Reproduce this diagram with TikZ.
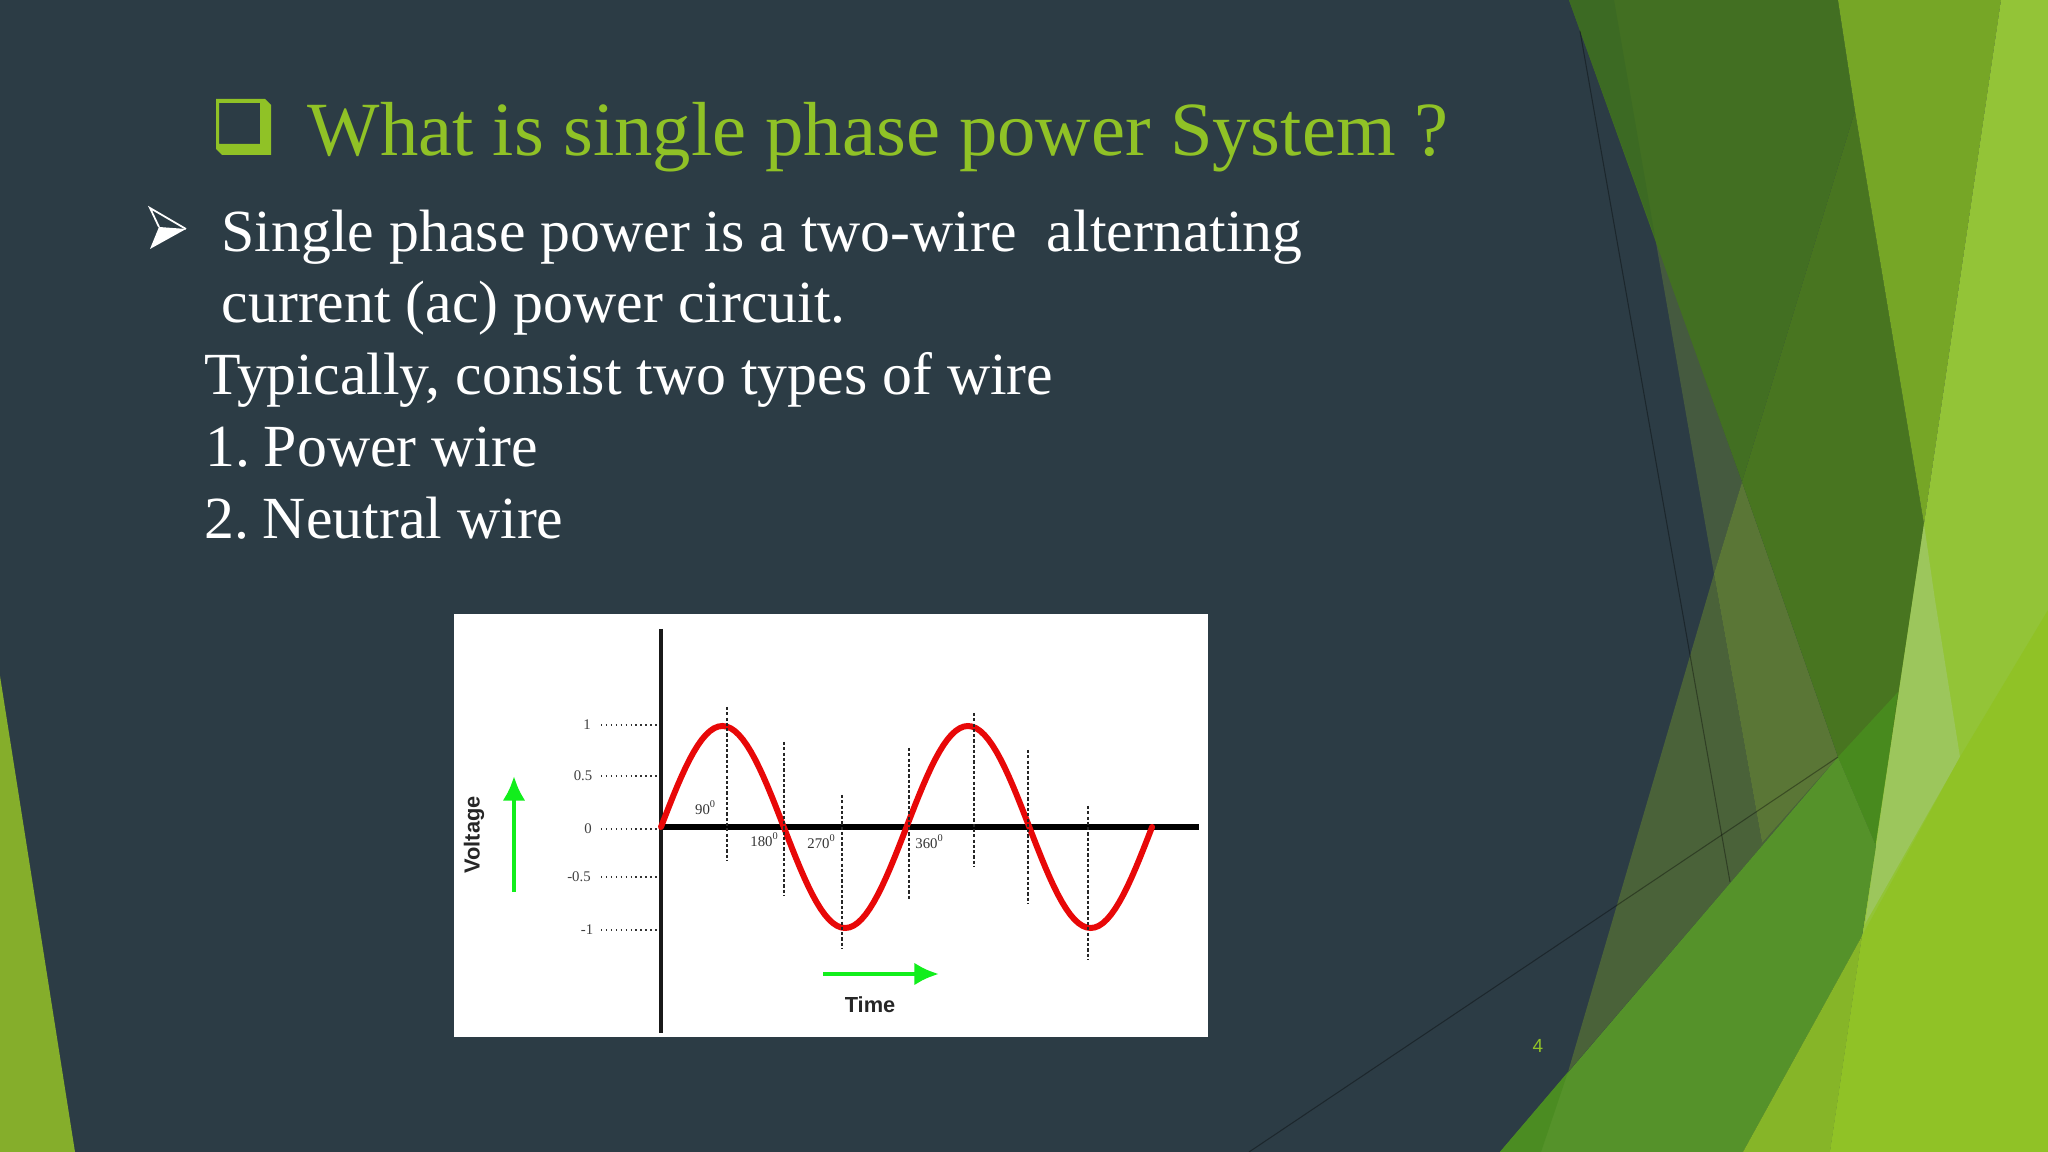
\documentclass[tikz,border=0pt]{standalone}
\usepackage{fontspec}
\usetikzlibrary{arrows.meta}
\setmainfont{Liberation Serif}
\setsansfont{Liberation Sans}
\definecolor{slidebg}{HTML}{2C3C45}
\definecolor{titlegreen}{HTML}{90C226}
\definecolor{cornergreen}{HTML}{85AE2B}
\definecolor{greyA}{RGB}{69,90,63}
\definecolor{greyB}{RGB}{74,98,57}
\definecolor{olive}{RGB}{90,118,54}
\definecolor{darkA}{RGB}{66,111,34}
\definecolor{darkB}{RGB}{60,106,35}
\definecolor{darkC}{RGB}{72,117,32}
\definecolor{darkD}{RGB}{72,138,30}
\definecolor{bandgreen}{RGB}{118,166,38}
\definecolor{lightgreen}{RGB}{147,196,55}
\definecolor{palegreen}{RGB}{156,198,92}
\definecolor{midgreen}{RGB}{85,146,42}
\definecolor{midgreenB}{RGB}{75,140,34}
\definecolor{stripgreen}{RGB}{134,181,40}
\definecolor{wavered}{HTML}{E80808}
\definecolor{arrowgreen}{HTML}{12EE1C}
\tikzset{
    bodytext/.style={anchor=base west, text=white, inner sep=0pt, font=\fontsize{17}{20}\selectfont},
    ticktext/.style={inner sep=0pt, text=black!75, font=\fontsize{4.2}{5}\selectfont},
    degtext/.style={inner sep=0pt, text=black!80, font=\fontsize{4.2}{5}\selectfont},
    axistext/.style={inner sep=0pt, text=black!85, font=\sffamily\bfseries\fontsize{6.2}{7}\selectfont},
    tickline/.style={densely dotted, line width=0.4pt, black!80},
    phaseline/.style={dash pattern=on 0.9pt off 0.6pt, line width=0.35pt, black!85},
    thinline/.style={line width=0.3pt, black, opacity=0.35},
    greenarrow/.style={arrowgreen, line width=1.3pt, -{Latex[length=7pt, width=6.5pt]}},
}
\begin{document}
\begin{tikzpicture}[x=0.01cm, y=-0.01cm]
    \useasboundingbox (0, 0) rectangle (2048, 1151.9);
    \fill[slidebg] (0, 0) rectangle (2048, 1160);

    % left corner
    \fill[cornergreen] (0, 676) -- (75, 1152) -- (0, 1152) -- cycle;

    % right shapes
    \fill[greyA] (1655, 237) -- (1742, 482) -- (1714, 574) -- cycle;
    \fill[greyB] (1714, 574) -- (1762, 843) -- (1838, 757) -- (1568, 1072) -- cycle;
    \fill[olive] (1742, 482) -- (1838, 757) -- (1762, 843) -- (1714, 574) -- cycle;
    \fill[darkA] (1569, 0) -- (1838, 0) -- (1855, 111) -- (1742, 482) -- cycle;
    \fill[darkB] (1569, 0) -- (1614, 0) -- (1655, 237) -- cycle;
    \fill[darkC] (1855, 111) -- (1924, 524) -- (1876, 846) -- (1838, 757) -- (1742, 482) -- cycle;
    \fill[darkD] (1838, 757) -- (1898, 692) -- (1876, 846) -- cycle;
    \fill[bandgreen] (1838, 0) -- (2001, 0) -- (1924, 524) -- (1855, 111) -- cycle;
    \fill[lightgreen] (2001, 0) -- (2048, 0) -- (2048, 1152) -- (1830, 1152) -- (1862, 936) -- (1924, 524) -- cycle;
    \fill[palegreen] (1924, 524) -- (1935, 600) -- (1960, 757) -- (1865, 924) -- (1876, 846) -- cycle;
    \fill[midgreen] (1838, 757) -- (1876, 846) -- (1862, 936) -- (1743, 1152) -- (1500, 1152) -- cycle;
    \fill[midgreenB] (1568, 1072) -- (1541, 1152) -- (1500, 1152) -- cycle;
    \fill[stripgreen] (1862, 936) -- (1743, 1152) -- (1830, 1152) -- cycle;
    \fill[titlegreen] (2048, 610) -- (1960, 757) -- (1862, 936) -- (1830, 1152) -- (2048, 1152) -- cycle;

    \draw[thinline] (1580, 31) -- (1730, 882);
    \draw[thinline] (1249, 1152) -- (1838, 757);

    % title
    \fill[titlegreen, even odd rule] (216, 99) -- (265, 99) -- (271, 105) -- (271, 155) -- (222, 155) -- (216, 149) -- cycle
        (219, 103) -- (219, 144) -- (260, 144) -- (260, 103) -- cycle;
    \node[anchor=base west, inner sep=0pt, text=titlegreen, font=\fontsize{21.8}{25}\selectfont] (title) at (307, 156) {What is single phase power System ?};

    % bullet
    \fill[white] (150, 249) -- (186, 229) -- (159, 227) -- cycle;
    \draw[white, line width=0.5pt, line join=miter] (159, 227) -- (150, 208) -- (186, 229);

    \node[bodytext] (lineA) at (221, 252) {Single phase power is a two-wire\ \ alternating};
    \node[bodytext] (lineB) at (221, 323) {current (ac) power circuit.};
    \node[bodytext] (lineC) at (204, 395) {Typically, consist two types of wire};
    \node[bodytext] (lineD) at (205, 467) {1.\hspace{0.225em}Power wire};
    \node[bodytext] (lineE) at (204, 539) {2.\hspace{0.225em}Neutral wire};

    % chart
    \fill[white] (454, 614) rectangle (1208, 1037);

    \draw[tickline] (601, 725) -- (661, 725);
    \draw[tickline] (601, 776) -- (661, 776);
    \draw[tickline] (601, 829) -- (661, 829);
    \draw[tickline] (601, 877) -- (661, 877);
    \draw[tickline] (601, 930) -- (661, 930);
    \node[ticktext] (tickA) at (587, 725) {1};
    \node[ticktext] (tickB) at (583, 776) {0.5};
    \node[ticktext] (tickC) at (588, 829) {0};
    \node[ticktext] (tickD) at (579, 877) {-0.5};
    \node[ticktext] (tickE) at (587, 930) {-1};

    \draw[line width=1.1pt, black!90] (661, 629) -- (661, 1033);
    \draw[line width=1.6pt, black] (661, 827) -- (1199, 827);

    \draw[wavered, line width=1.7pt, line cap=round] plot[domain=0:720, samples=121] ({661+\x*0.682}, {827-101*sin(\x)});

    \draw[phaseline] (727, 707) -- (727, 860);
    \draw[phaseline] (784, 742) -- (784, 895);
    \draw[phaseline] (842, 795) -- (842, 948);
    \draw[phaseline] (909, 748) -- (909, 900);
    \draw[phaseline] (974, 713) -- (974, 867);
    \draw[phaseline] (1028, 750) -- (1028, 903);
    \draw[phaseline] (1088, 806) -- (1088, 959);

    \node[degtext] (degA) at (706, 808) {90\textsuperscript{0}};
    \node[degtext] (degB) at (765, 840) {180\textsuperscript{0}};
    \node[degtext] (degC) at (822, 842) {270\textsuperscript{0}};
    \node[degtext] (degD) at (930, 842) {360\textsuperscript{0}};

    \draw[greenarrow] (514, 892) -- (514, 776);
    \draw[greenarrow] (823, 974) -- (939, 974);

    \node[axistext, rotate=90] (voltage) at (474, 835) {Voltage};
    \node[axistext] (time) at (870, 1005) {Time};

    \node[inner sep=0pt, text=titlegreen, font=\sffamily\fontsize{5.4}{6}\selectfont] (page) at (1538, 1046) {4};
\end{tikzpicture}
\end{document}
